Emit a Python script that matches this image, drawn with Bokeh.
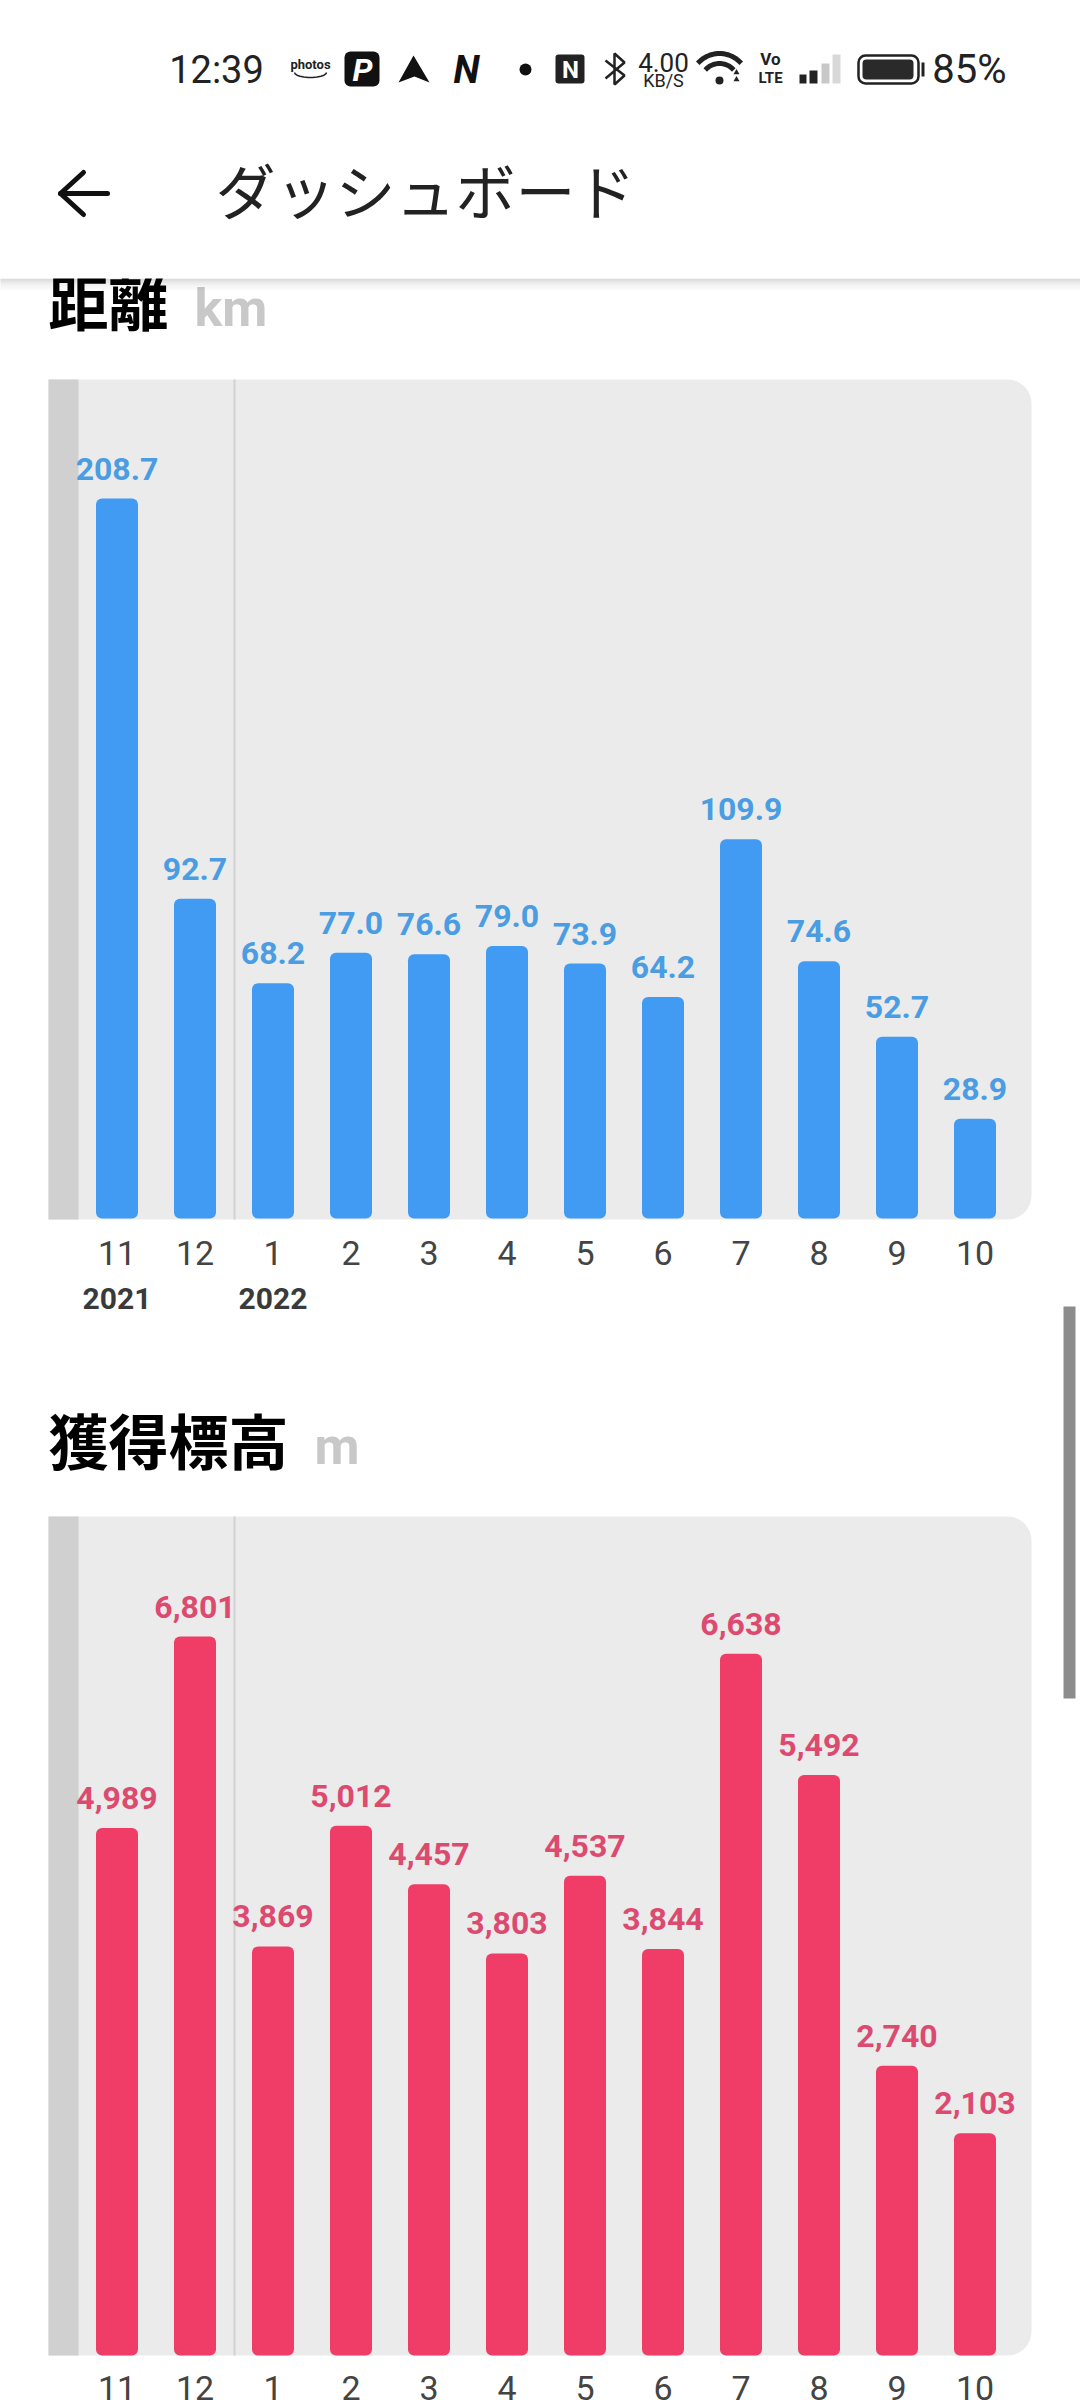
from bokeh.core.properties import value
from bokeh.embed import file_html
from bokeh.models import ColumnDataSource, FixedTicker, LinearAxis, Range1d
from bokeh.plotting import figure
from bokeh.resources import INLINE
import numpy as np

# --- data ---
months = ["11", "12", "1", "2", "3", "4", "5", "6", "7", "8", "9", "10"]
distance_km = [208.7, 92.7, 68.2, 77.0, 76.6, 79.0, 73.9, 64.2, 109.9, 74.6, 52.7, 28.9]
elevation_m = [4989, 6801, 3869, 5012, 4457, 3803, 4537, 3844, 6638, 5492, 2740, 2103]
year_labels = ["2021", "2022"]
year_positions = [0, 2]

# --- layout (page pixels) ---
PAGE_L, PAGE_T, W, H = 0, 0, 1080, 2400
PAGE_R, PAGE_B = PAGE_L + W, PAGE_T + H
BAR0, STEP = 116.5, 78
BASE1, SCALE1 = 1218, 720 / 208.7
BASE2, SCALE2 = 2355, 719 / 6801

p = figure(width=W, height=H, output_backend="svg", toolbar_location=None,
           x_range=Range1d(PAGE_L, PAGE_R), y_range=Range1d(PAGE_B, PAGE_T),
           x_axis_type=None, y_axis_type=None, min_border=0, outline_line_color=None,
           background_fill_color="white", border_fill_color="white")
p.grid.visible = False
p.extra_x_ranges["month"] = Range1d((PAGE_L - BAR0) / STEP, (PAGE_R - BAR0) / STEP)
p.extra_y_ranges["dist"] = Range1d((BASE1 - PAGE_B) / SCALE1, (BASE1 - PAGE_T) / SCALE1)
p.extra_y_ranges["gain"] = Range1d((BASE2 - PAGE_B) / SCALE2, (BASE2 - PAGE_T) / SCALE2)

ROBOTO = value("Roboto")
CJK = value("Noto Sans CJK JP")


def txt(x, y, s, size, color="#222222", font=ROBOTO, style="normal", align="center",
        baseline="middle", level="glyph"):
    p.text(x=[x], y=[y], text=[s], text_font=font, text_font_size=f"{size}px",
           text_font_style=style, text_color=color, text_align=align,
           text_baseline=baseline, level=level)


def panel(top, bottom, name, values, labels, bar_color, text_color, base, standoff):
    p.quad(left=[48], right=[1031], top=[top], bottom=[bottom], fill_color="#ebebeb",
           line_color=None, border_radius=(0, 24, 24, 0), level="underlay")
    p.quad(left=[48], right=[78], top=[top], bottom=[bottom], fill_color="#d0d0d0",
           line_color=None, level="underlay")
    p.quad(left=[233], right=[235], top=[top], bottom=[bottom], fill_color="#d2d2d2",
           line_color=None, level="underlay")
    src = ColumnDataSource(dict(x=list(range(len(values))), v=values, t=labels))
    p.vbar(x="x", top="v", bottom=0, width=42 / STEP, source=src, x_range_name="month",
           y_range_name=name, fill_color=bar_color, line_color=None, border_radius=6)
    p.text(x="x", y="v", text="t", source=src, x_range_name="month", y_range_name=name,
           text_font=ROBOTO, text_font_style="bold", text_font_size="32px",
           text_color=text_color, text_align="center", text_baseline="middle", y_offset=-30)
    ax = LinearAxis(x_range_name="month", fixed_location=base, ticker=FixedTicker(ticks=src.data["x"]),
                    major_label_overrides={i: m for i, m in enumerate(months)},
                    major_label_text_font="Roboto", major_label_text_font_size="34px",
                    major_label_text_color="#444444", major_label_standoff=standoff,
                    axis_line_color=None, major_tick_line_color=None, minor_tick_line_color=None,
                    major_label_orientation="horizontal")
    p.add_layout(ax, "below")


# --- charts ---
panel(379, 1219, "dist", distance_km, [f"{v:.1f}" for v in distance_km], "#419bf3", "#4a9de2", BASE1, 16)
panel(1516, BASE2, "gain", elevation_m, [f"{v:,}" for v in elevation_m], "#f03d68", "#dc4a70", BASE2, 14)

p.text(x=year_positions, y=[1298, 1298], text=year_labels, x_range_name="month",
       text_font=ROBOTO, text_font_style="bold", text_font_size="30px", text_color="#3a3a3a",
       text_align="center", text_baseline="middle")

txt(48, 299, "距離", 60, "#000000", CJK, "bold", "left", "middle")
txt(194, 308, "km", 52, "#c8c8c8", ROBOTO, "bold", "left", "middle")
txt(48, 1438, "獲得標高", 60, "#000000", CJK, "bold", "left", "middle")
txt(314, 1446, "m", 52, "#c8c8c8", ROBOTO, "bold", "left", "middle")

# --- scrollbar ---
p.quad(left=[1063], right=[1075], top=[1306], bottom=[1698], fill_color="#8c8c8c", line_color=None)

# --- app bar with shadow ---
LV, LV2 = "annotation", "overlay"
for i, a in enumerate([0.14, 0.10, 0.07, 0.045, 0.03, 0.015]):
    p.quad(left=[PAGE_L], right=[PAGE_R], top=[278 + 2 * i], bottom=[280 + 2 * i], fill_color="black",
           fill_alpha=a, line_color=None, level=LV)
p.quad(left=[PAGE_L], right=[PAGE_R], top=[PAGE_T], bottom=[278], fill_color="white",
       line_color=None, level=LV)

p.line(x=[107, 60], y=[193, 193], line_color="#111111", line_width=5, line_cap="round", level=LV2)
p.line(x=[83, 60, 83], y=[172, 193, 214], line_color="#111111", line_width=5, line_cap="round",
       line_join="round", level=LV2)
txt(215, 188, "ダッシュボード", 60, "#222222", CJK, "normal", "left", "middle", LV2)

# --- status bar ---
DK = "#222222"
txt(216, 69, "12:39", 38, DK, level=LV2)
txt(969, 69, "85%", 40, DK, level=LV2)
txt(310, 64, "photos", 13, DK, style="bold", level=LV2)
t = np.linspace(0, np.pi, 12)
p.line(x=310 + 16 * np.cos(t), y=72 + 5 * np.sin(t), line_color=DK, line_width=1.5, level=LV2)
p.quad(left=[344], right=[379], top=[51], bottom=[86], fill_color="#111111", line_color=None,
       border_radius=6, level=LV2)
txt(362, 69, "P", 32, "white", style="bold italic", level=LV2)
p.patch(x=[413, 429, 414, 398], y=[55, 82, 76, 82], fill_color="#111111", line_color=None, level=LV2)
txt(466, 69, "N", 38, "#111111", style="bold italic", level=LV2)
p.scatter(x=[525], y=[69], size=12, marker="circle", fill_color="#111111", line_color=None, level=LV2)
p.quad(left=[555], right=[584], top=[54], bottom=[83], fill_color="#222222", line_color=None,
       border_radius=3, level=LV2)
txt(570, 69, "N", 24, "white", style="bold", level=LV2)
p.line(x=[605, 624, 614, 614, 624, 605], y=[60, 75, 84, 53, 62, 78], line_color=DK, line_width=2.5,
       level=LV2)
txt(663, 62, "4.00", 26, DK, level=LV2)
txt(663, 80, "KB/S", 18, DK, level=LV2)
for r, lw in [(29, 5), (19, 5)]:
    a = np.linspace(np.pi * 0.23, np.pi * 0.77, 14)
    p.line(x=719 - 0 + r * np.cos(a), y=82 - r * np.sin(a), line_color=DK, line_width=lw, level=LV2)
p.scatter(x=[719], y=[80], size=8, marker="circle", fill_color=DK, line_color=None, level=LV2)
p.scatter(x=[736, 736], y=[72, 79], size=6, marker="triangle", fill_color=DK, line_color=None, level=LV2)
txt(770, 58, "Vo", 17, DK, style="bold", level=LV2)
txt(770, 77, "LTE", 15, DK, style="bold", level=LV2)
p.quad(left=[799, 809, 821, 832], right=[806, 817, 829, 840], top=[74, 70, 63, 54],
       bottom=[83, 83, 83, 83], fill_color=[DK, DK, "#c8c8c8", "#d8d8d8"], line_color=None, level=LV2)
p.quad(left=[858], right=[918], top=[55], bottom=[83], fill_color=None, line_color=DK, line_width=2.5,
       border_radius=7, level=LV2)
p.quad(left=[862], right=[913], top=[59], bottom=[79], fill_color="#2a2a2a", line_color=None,
       border_radius=4, level=LV2)
p.quad(left=[921], right=[924], top=[62], bottom=[76], fill_color=DK, line_color=None, level=LV2)

open("out.html", "w").write(file_html(p, INLINE))
